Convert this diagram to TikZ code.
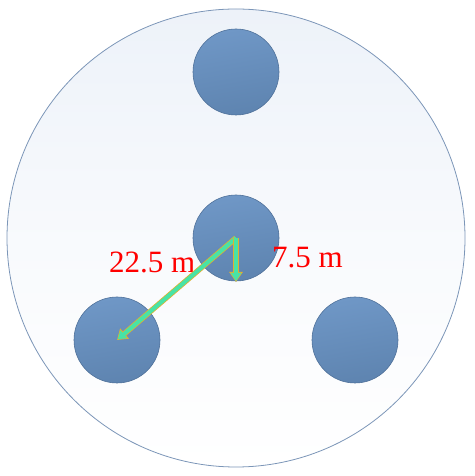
\documentclass[tikz,border=0pt]{standalone}
\usepackage{fontspec}
\setmainfont{Liberation Serif}
\usetikzlibrary{arrows.meta}
\definecolor{ballfill}{HTML}{5E84B0}
\definecolor{balltop}{HTML}{6F97C6}
\definecolor{ballline}{HTML}{4F719A}
\definecolor{outerline}{HTML}{7C96B8}
\definecolor{outertop}{HTML}{EDF2F9}
\definecolor{arrowgreen}{HTML}{48E3A6}
\definecolor{arroworange}{HTML}{E0B030}
\tikzset{
  ball/.style={circle, minimum size=86pt, inner sep=0pt, draw=ballline, line width=0.6pt,
    top color=balltop, bottom color=ballfill, shading angle=10},
  outer/.style={circle, minimum size=458pt, inner sep=0pt, draw=outerline, line width=0.8pt,
    top color=outertop, bottom color=white, middle color=outertop!40!white},
  dimlabel/.style={text=red, font=\fontsize{31}{33}\selectfont, inner sep=0pt},
  arrowback/.style={draw=arroworange, line width=5.5pt, -{Triangle[length=10pt,width=13pt]}},
  arrowfront/.style={draw=arrowgreen, line width=4pt, -{Triangle[length=8pt,width=10pt]}},
}
\begin{document}
\begin{tikzpicture}[x=1pt,y=1pt]
\useasboundingbox (0,0) rectangle (474,476);
\node[outer] (big) at (236,238) {};
\node[ball] (top) at (236,404) {};
\node[ball] (mid) at (236,238) {};
\node[ball] (bl) at (117,136) {};
\node[ball] (br) at (355,136) {};
\node[dimlabel, anchor=base west] (l1) at (109,203) {22.5 m};
\node[dimlabel, anchor=base west] (l2) at (272,208) {7.5 m};
\coordinate (c) at (mid.center);
\coordinate (down) at (236,194);
\draw[arrowback] (c) -- (bl.center);
\draw[arrowfront, shorten >=1pt] (c) -- (bl.center);
\draw[arrowback] (c) -- (down);
\draw[arrowfront, shorten >=1pt] (c) -- (down);
\end{tikzpicture}
\end{document}
